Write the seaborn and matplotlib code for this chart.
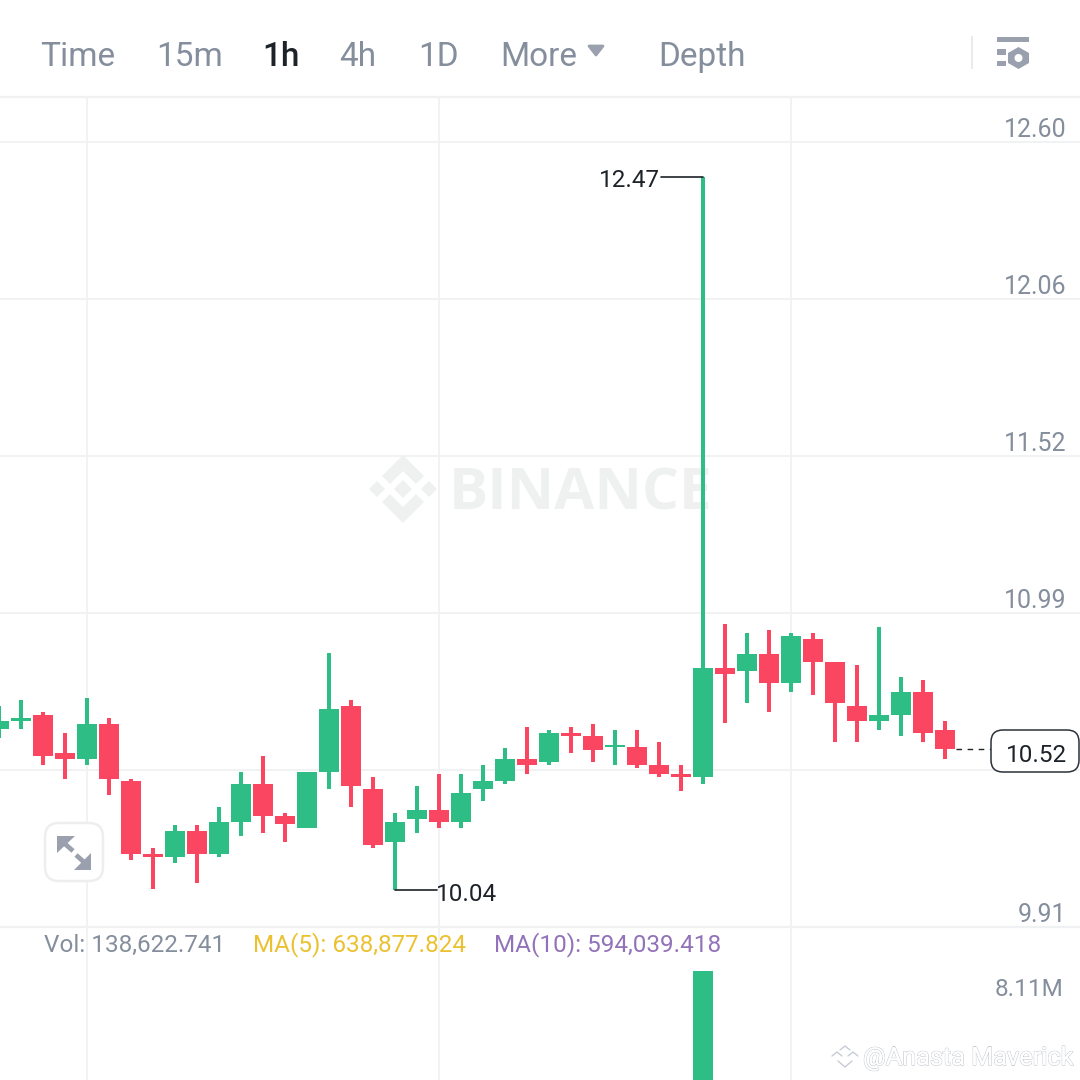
import matplotlib
matplotlib.use("Agg")
import matplotlib.pyplot as plt
import matplotlib.patheffects as pe
from matplotlib.patches import Polygon, FancyBboxPatch, Circle, Rectangle
import pandas as pd
import seaborn as sns

opens = [10.588, 10.616, 10.636, 10.506, 10.485, 10.605, 10.413, 10.163, 10.153, 10.242, 10.163,
         10.273, 10.403, 10.294, 10.253, 10.444, 10.667, 10.386, 10.204, 10.283, 10.314, 10.273,
         10.386, 10.413, 10.485, 10.475, 10.575, 10.564, 10.527, 10.527, 10.465, 10.434, 10.424,
         10.797, 10.787, 10.845, 10.746, 10.897, 10.818, 10.667, 10.616, 10.636, 10.715, 10.585]
closes = [10.616, 10.626, 10.496, 10.485, 10.605, 10.417, 10.163, 10.153, 10.242, 10.163, 10.273,
          10.403, 10.294, 10.266, 10.444, 10.657, 10.396, 10.194, 10.273, 10.314, 10.273, 10.372,
          10.413, 10.485, 10.465, 10.575, 10.564, 10.516, 10.534, 10.465, 10.434, 10.424, 10.797,
          10.777, 10.845, 10.746, 10.907, 10.818, 10.678, 10.616, 10.636, 10.715, 10.575, 10.52]
highs = [10.667, 10.688, 10.647, 10.575, 10.695, 10.626, 10.417, 10.184, 10.263, 10.263, 10.324,
         10.444, 10.496, 10.304, 10.444, 10.849, 10.688, 10.424, 10.304, 10.393, 10.434, 10.434,
         10.465, 10.523, 10.595, 10.585, 10.595, 10.605, 10.585, 10.585, 10.544, 10.465, 12.47,
         10.948, 10.917, 10.928, 10.917, 10.917, 10.818, 10.808, 10.938, 10.767, 10.756, 10.616]
lows = [10.557, 10.588, 10.465, 10.417, 10.465, 10.365, 10.143, 10.043, 10.133, 10.064, 10.153,
        10.225, 10.235, 10.204, 10.253, 10.386, 10.324, 10.184, 10.04, 10.235, 10.253, 10.253,
        10.345, 10.403, 10.434, 10.465, 10.506, 10.475, 10.465, 10.455, 10.424, 10.376, 10.403,
        10.609, 10.678, 10.647, 10.715, 10.705, 10.544, 10.544, 10.585, 10.564, 10.544, 10.485]

grid_prices = [12.589, 12.054, 11.519, 10.984, 10.449, 9.914]
price_labels = ["12.60", "12.06", "11.52", "10.99", "", "9.91"]
time_grid = [4, 20, 36]

spike_index = [32]
spike_volume = [8.11e6]

tabs = ["Time", "15m", "1h", "4h", "1D", "More", "Depth"]
tab_x = [40, 156, 262, 339, 418, 500, 658]

GREEN = "#2EBD85"
RED = "#FB4661"
GRAY = "#848E9C"
GRID = "#F0F1F3"

df = pd.DataFrame({"i": range(len(opens)), "open": opens, "close": closes, "high": highs, "low": lows})
df["dir"] = ["up" if c >= o else "down" for o, c in zip(opens, closes)]
df["body_low"] = df[["open", "close"]].min(axis=1)
df["body"] = (df["open"] - df["close"]).abs()
df["wick"] = df["high"] - df["low"]

sns.set_theme(style="white")
plt.rcParams["font.family"] = ["Roboto", "DejaVu Sans"]

fig = plt.figure(figsize=(10.8, 10.8), dpi=100)
bg = fig.add_axes([0, 0, 1, 1], zorder=0)
ax = fig.add_axes([0, 153 / 1080, 1, 830 / 1080], zorder=1, facecolor="none")
ax_vol = fig.add_axes([0, 0, 1, 153 / 1080], zorder=1, facecolor="none")
over = fig.add_axes([0, 0, 1, 1], zorder=3, facecolor="none")
for a in (bg, over):
    a.set_xlim(0, 1080)
    a.set_ylim(1080, 0)
    a.axis("off")

# watermark under the candles
bg.text(449, 495, "BINANCE", color="#EFF1F1", fontsize=42, fontweight="bold", family="Open Sans",
        va="center", ha="left")
lx, ly = 403, 489
logo = [
    [(0, -34), (21, -13), (13, -5), (0, -18), (-13, -5), (-21, -13)],
    [(0, 34), (21, 13), (13, 5), (0, 18), (-13, 5), (-21, 13)],
    [(0, -9), (9, 0), (0, 9), (-9, 0)],
    [(-34, 0), (-26, -8), (-18, 0), (-26, 8)],
    [(34, 0), (26, -8), (18, 0), (26, 8)],
]
for pts in logo:
    bg.add_patch(Polygon([(lx + p[0], ly + p[1]) for p in pts], closed=True, fc="#EFF1F1", ec="none"))

palette = {"up": GREEN, "down": RED}
for d, part in df.groupby("dir"):
    sns.barplot(x=part["i"].values, y=part["wick"].values, bottom=part["low"].values, native_scale=True,
                width=0.16, color=palette[d], saturation=1, errorbar=None, linewidth=0, ax=ax)
    sns.barplot(x=part["i"].values, y=part["body"].values, bottom=part["body_low"].values, native_scale=True,
                width=0.88, color=palette[d], saturation=1, errorbar=None, linewidth=0, ax=ax)

ax.set_xlim(0.045, 49.136)
ax.set_ylim(9.914, 12.743)
ax.set_xticks(time_grid)
ax.set_xticklabels([])
ax.set_yticks(grid_prices)
ax.set_yticklabels(price_labels)
ax.yaxis.tick_right()
ax.tick_params(axis="y", length=0, pad=-10, labelsize=18, labelcolor=GRAY)
for lab in ax.get_yticklabels():
    lab.set_ha("right")
    lab.set_va("bottom")
ax.tick_params(axis="x", length=0)
ax.set_xlabel("")
ax.set_ylabel("")
ax.grid(True, color=GRID, linewidth=1.3)
ax.set_axisbelow(True)
sns.despine(ax=ax, left=True, right=True, bottom=True, top=False)
ax.spines["top"].set_color(GRID)
ax.spines["top"].set_linewidth(1.6)

# high / low markers
ax.plot([32, 30.1], [12.47, 12.47], color="#1E2329", lw=1.2)
ax.text(30.03, 12.46, "12.47", ha="right", va="center", fontsize=17.5, color="#1E2329")
ax.plot([18, 19.9], [10.04, 10.04], color="#1E2329", lw=1.2)
ax.text(19.85, 10.025, "10.04", ha="left", va="center", fontsize=17.5, color="#1E2329")

# last price
ax.plot([43.5, 45.1], [closes[-1], closes[-1]], color="#1E2329", lw=1, ls=(0, (4, 4)))

# volume pane
sns.barplot(x=spike_index, y=spike_volume, native_scale=True, width=0.88, color=GREEN, saturation=1,
            errorbar=None, linewidth=0, ax=ax_vol)
ax_vol.set_xlim(0.045, 49.136)
ax_vol.set_ylim(3.0e6, 10.17e6)
ax_vol.set_xticks(time_grid)
ax_vol.set_xticklabels([])
ax_vol.set_yticks([])
ax_vol.tick_params(axis="x", length=0)
ax_vol.set_xlabel("")
ax_vol.set_ylabel("")
ax_vol.grid(True, axis="x", color=GRID, linewidth=1.3)
ax_vol.set_axisbelow(True)
sns.despine(ax=ax_vol, left=True, right=True, bottom=True, top=False)
ax_vol.spines["top"].set_color(GRID)
ax_vol.spines["top"].set_linewidth(1.6)

# header
for name, x in zip(tabs, tab_x):
    active = name == "1h"
    over.text(x, 57, name, fontsize=24, va="center", ha="left",
              color="#1E2329" if active else GRAY, fontweight="medium" if active else "normal")
over.add_patch(Polygon([(589, 46), (603, 46), (596, 55)], closed=True, fc="#9AA0AD", ec="#9AA0AD", lw=2, joinstyle="round"))
over.add_patch(Rectangle((971, 36), 2, 33, fc="#E9EAEC", ec="none"))
icon = "#9AA0AD"
over.add_patch(Rectangle((997, 37), 32, 5, fc=icon, ec="none"))
over.add_patch(Rectangle((997, 49), 9, 6, fc=icon, ec="none"))
over.add_patch(Rectangle((997, 61), 9, 5, fc=icon, ec="none"))
over.add_patch(Polygon([(1018.5, 47), (1029, 53), (1029, 63), (1018.5, 69), (1008, 63), (1008, 53)], closed=True, fc=icon, ec="none"))
over.add_patch(Circle((1018.5, 58), 4, fc="white", ec="none"))

# indicator line
over.text(44, 945, "Vol: 138,622.741", fontsize=17.5, color=GRAY, va="center", ha="left")
over.text(253, 945, "MA(5): 638,877.824", fontsize=17.5, color="#EBC12F", va="center", ha="left")
over.text(494, 945, "MA(10): 594,039.418", fontsize=17.5, color="#9272B8", va="center", ha="left")
over.text(1064, 989, "8.11M", fontsize=17.5, color=GRAY, va="center", ha="right")

# current price pill
over.add_patch(FancyBboxPatch((998, 737), 74, 28, boxstyle="round,pad=7,rounding_size=12", fc="white", ec="#2B3139", lw=1.1))
over.text(1036, 756, "10.52", fontsize=17.5, color="#1E2329", ha="center", va="center")

# expand button
over.add_patch(FancyBboxPatch((52, 830), 44, 44, boxstyle="round,pad=7,rounding_size=14", fc="white", ec="#ECEEF0", lw=1.8))
over.add_patch(Polygon([(57, 836), (75, 836), (57, 853)], closed=True, fc=icon, ec="none"))
over.add_patch(Polygon([(91, 870), (74, 870), (91, 853)], closed=True, fc=icon, ec="none"))
over.plot([64, 73], [843, 851], color=icon, lw=3.4, solid_capstyle="butt")
over.plot([76, 85], [855, 863], color=icon, lw=3.4, solid_capstyle="butt")

# reposter mark
for pts in [[(832, 1056), (837, 1052), (842, 1056)], [(848, 1056), (853, 1052), (858, 1056)],
            [(840, 1050), (845, 1046), (850, 1050)], [(838, 1061), (845, 1067), (852, 1061)]]:
    over.plot([p[0] for p in pts], [p[1] for p in pts], color="#C8CCD4", lw=1)
over.text(863, 1058, "@Anasta Maverick", fontsize=18.2, color="white", va="center", ha="left",
          path_effects=[pe.withStroke(linewidth=0.9, foreground="#C4C8D0"), pe.Normal()])

fig.savefig("out.png", dpi=100)
